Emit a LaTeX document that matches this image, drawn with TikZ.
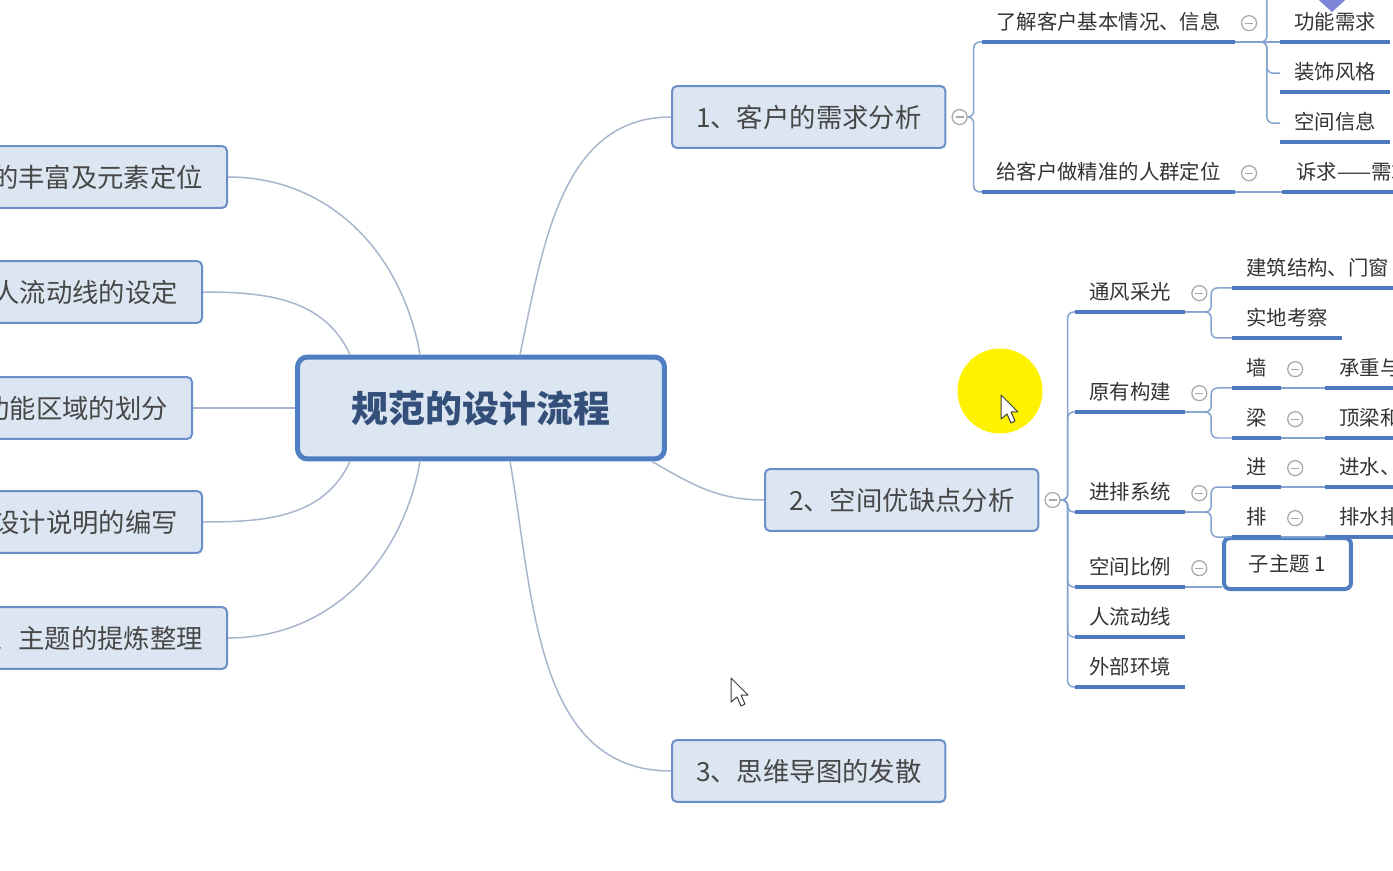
\documentclass[tikz,border=0pt]{standalone}
\usepackage{fontspec}
\setmainfont{Noto Sans CJK SC}
\usetikzlibrary{positioning, calc}

\definecolor{topicfill}{HTML}{DCE6F2}
\definecolor{topicline}{HTML}{6A8FC8}
\definecolor{rootline}{HTML}{4F7FC2}
\definecolor{roottext}{HTML}{34507A}
\definecolor{bartone}{HTML}{4E7BBE}
\definecolor{linkgray}{HTML}{A7B6CC}
\definecolor{linkblue}{HTML}{85A3D0}
\definecolor{foldgray}{HTML}{A8A8A8}
\definecolor{handle}{HTML}{7C85D8}

\tikzset{
  root/.style={draw=rootline, line width=0.1cm, fill=topicfill, rounded corners=0.2cm,
    minimum width=7.34cm, minimum height=2.04cm, text=roottext,
    font=\fontsize{21}{24}\selectfont\bfseries},
  topic/.style={draw=topicline, line width=0.04cm, fill=topicfill, rounded corners=0.1cm,
    minimum height=1.24cm, inner xsep=0.48cm, text=black!72,
    font=\fontsize{15}{18}\selectfont},
  subtopic/.style={anchor=south west, inner xsep=0.28cm, inner ysep=0.17cm,
    text height=0.32cm, text depth=0.08cm, text=black!80,
    font=\fontsize{11.6}{14}\selectfont},
  bar/.style={draw=bartone, line width=0.08cm},
  link/.style={draw=linkblue, line width=0.03cm, rounded corners=0.12cm},
  rootlink/.style={draw=linkgray, line width=0.03cm},
  foldmark/.style={circle, draw=foldgray, line width=0.025cm, minimum size=0.3cm, inner sep=0pt,
    path picture={\draw[foldgray, line width=0.025cm]
      ([xshift=-0.08cm]path picture bounding box.center) -- ([xshift=0.08cm]path picture bounding box.center);}},
  selbox/.style={draw=rootline, line width=0.08cm, fill=white, rounded corners=0.12cm,
    minimum width=2.54cm, minimum height=1.02cm, text=black!80,
    font=\fontsize{11.6}{14}\selectfont},
  cursorline/.style={fill=white, draw=black!75, line width=0.02cm, line join=round}
}

% mouse pointer, tip at #1
\newcommand{\drawcursor}[1]{\draw[cursorline, shift={#1}]
  (0,0) -- (0,24) -- (6,19) -- (10,28) -- (14,26) -- (10,17) -- (17,17) -- cycle;}

\begin{document}
\begin{tikzpicture}[x=0.02cm, y=-0.02cm]
\useasboundingbox (0,0) rectangle (1393,871);
\clip (0,0) rectangle (1393,871);

% centre
\node[root] (root) at (481,408) {规范的设计流程};

% left side
\node[topic, anchor=east] (l1) at (228,177) {的丰富及元素定位};
\node[topic, anchor=east] (l2) at (203,292) {人流动线的设定};
\node[topic, anchor=east] (l3) at (193,408) {功能区域的划分};
\node[topic, anchor=east] (l4) at (203,522) {设计说明的编写};
\node[topic, anchor=east] (l5) at (228,638) {、主题的提炼整理};

% right side
\node[topic, anchor=west] (n1) at (671,117) {1、客户的需求分析};
\node[foldmark, right=0.1cm of n1] (f1) {};
\node[topic, anchor=west] (n2) at (764,500) {2、空间优缺点分析};
\node[foldmark, right=0.1cm of n2] (f2) {};
\node[topic, anchor=west] (n3) at (671,771) {3、思维导图的发散};

\draw[rootlink] ([xshift=-1.22cm]root.north) to[out=100, in=0] (l1.east);
\draw[rootlink] ([xshift=-2.62cm]root.north) to[out=115, in=0] (l2.east);
\draw[rootlink] (root.west) -- (l3.east);
\draw[rootlink] ([xshift=-2.62cm]root.south) to[out=-115, in=0] (l4.east);
\draw[rootlink] ([xshift=-1.22cm]root.south) to[out=-100, in=0] (l5.east);
\draw[rootlink] ([xshift=0.78cm]root.north) to[out=78, in=180] (n1.west);
\draw[rootlink] ([xshift=-0.3cm]root.south east) to[out=-30, in=180] (n2.west);
\draw[rootlink] ([xshift=0.58cm]root.south) to[out=-80, in=180] (n3.west);

% 1
\node[subtopic] (c11) at (982,42) {了解客户基本情况、信息};
\node[foldmark, right=0.12cm of c11] (f11) {};
\node[subtopic] (c12) at (982,192) {给客户做精准的人群定位};
\node[foldmark, right=0.12cm of c12] (f12) {};
\node[subtopic] (g1) at (1280,42) {功能需求};
\node[subtopic] (g2) at (1280,92) {装饰风格};
\node[subtopic] (g3) at (1280,142) {空间信息};
\node[subtopic] (g4) at (1282,192) {诉求——需求};
\coordinate (gup) at (1280,-58);

\draw[link] (f1.east) -- ++(6,0) |- (c11.south west);
\draw[link] (f1.east) -- ++(6,0) |- (c12.south west);
\draw[link] (c11.south east) -- (g1.south west);
\foreach \g in {g2,g3,gup}
  \draw[link] (c11.south east) -- ++(32,0) |- (\g);
\draw[link] (c12.south east) -- (g4.south west);
\fill[handle] (1310,-8) -- (1332,12) -- (1354,-8) -- (1332,-28) -- cycle;

% 2
\node[subtopic] (s1) at (1075,312) {通风采光};
\node[subtopic] (s2) at (1075,412) {原有构建};
\node[subtopic] (s3) at (1075,512) {进排系统};
\node[subtopic] (s4) at (1075,587) {空间比例};
\node[subtopic] (s5) at (1075,637) {人流动线};
\node[subtopic] (s6) at (1075,687) {外部环境};
\foreach \s in {s1,s2,s3,s4}
  \node[foldmark, right=0.12cm of \s] (f\s) {};

\node[subtopic] (t1) at (1232,288) {建筑结构、门窗};
\node[subtopic] (t2) at (1232,338) {实地考察};
\node[subtopic] (t3) at (1232,388) {墙};
\node[subtopic] (t4) at (1232,438) {梁};
\node[subtopic] (t5) at (1232,487) {进};
\node[subtopic] (t6) at (1232,537) {排};
\foreach \t in {t3,t4,t5,t6}
  \node[foldmark, right=0.12cm of \t] (f\t) {};
\node[subtopic] (u3) at (1325,388) {承重与};
\node[subtopic] (u4) at (1325,438) {顶梁和};
\node[subtopic] (u5) at (1325,487) {进水、};
\node[subtopic] (u6) at (1325,537) {排水排};
\node[selbox, anchor=south west] (zz) at (1222,591) {子主题 1};

\foreach \s in {s1,s2,s3,s4,s5,s6}
  \draw[link] (f2.east) -- ++(7,0) |- (\s.south west);
\draw[link] (s1.south east) -- ++(26,0) |- (t1.south west);
\draw[link] (s1.south east) -- ++(26,0) |- (t2.south west);
\draw[link] (s2.south east) -- ++(26,0) |- (t3.south west);
\draw[link] (s2.south east) -- ++(26,0) |- (t4.south west);
\draw[link] (s3.south east) -- ++(26,0) |- (t5.south west);
\draw[link] (s3.south east) -- ++(26,0) |- (t6.south west);
\draw[link] (t3.south east) -- (u3.south west);
\draw[link] (t4.south east) -- (u4.south west);
\draw[link] (t5.south east) -- (u5.south west);
\draw[link] (t6.south east) -- (u6.south west);
\draw[link] (s4.south east) -- (s4.south east -| zz.west);

% underlines
\foreach \n in {c11,c12,g1,g2,g3,g4,s1,s2,s3,s4,s5,s6,t1,t2,t3,t4,t5,t6,u3,u4,u5,u6}
  \draw[bar] (\n.south west) -- (\n.south east);

% pointer marks
\fill[yellow] (1000,391) circle [radius=0.85cm];
\drawcursor{(1001,395)}
\drawcursor{(731,678)}
\end{tikzpicture}
\end{document}
